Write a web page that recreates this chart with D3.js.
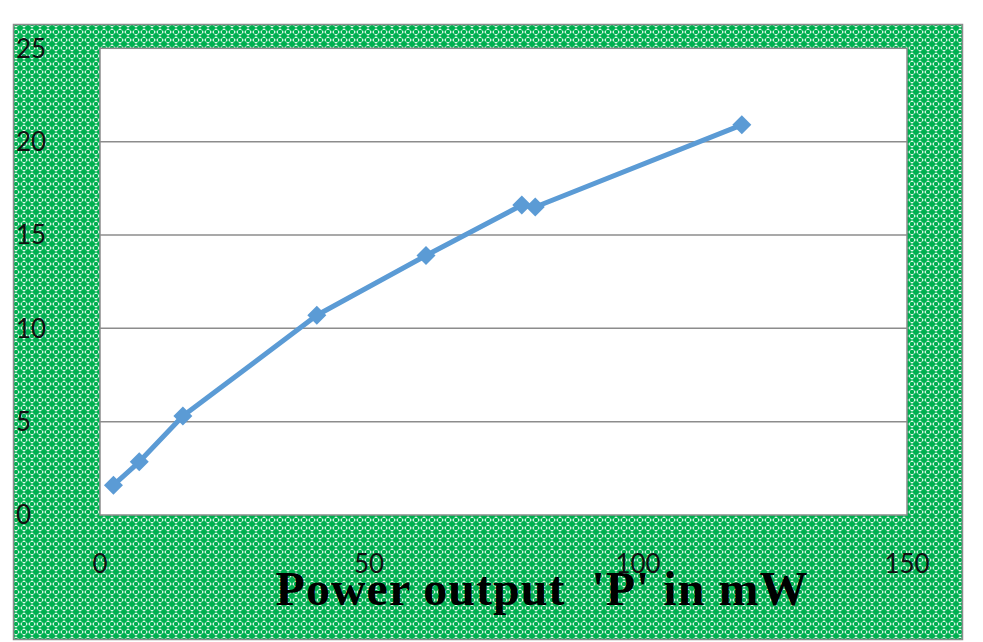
<!DOCTYPE html>
<html><head><meta charset="utf-8">
<script src="https://cdn.jsdelivr.net/npm/d3@7"></script>
<style>body{margin:0;background:#fff}svg{display:block}</style>
</head><body><svg id="c" width="983" height="642"></svg>
<script>
const powerOutput = [2.5, 7.3, 15.4, 40.3, 60.6, 78.4, 80.9, 119.3];
const seriesValues = [1.6, 2.85, 5.3, 10.7, 13.9, 16.6, 16.5, 20.9];
const xTicks = [0, 50, 100, 150];
const yTicks = [0, 5, 10, 15, 20, 25];
const xTitle = "Power output\u00a0\u00a0'P' in mW";

const svg = d3.select('#c');
const defs = svg.append('defs');
const pat = defs.append('pattern').attr('id','pt').attr('patternUnits','userSpaceOnUse')
  .attr('width',8).attr('height',8);
pat.append('rect').attr('width',8).attr('height',8).attr('fill','#ffffff');
pat.append('circle').attr('cx',4).attr('cy',4).attr('r',3).attr('fill','#00b050');
[[0,0],[8,0],[0,8],[8,8]].forEach(([x,y])=>pat.append('circle').attr('cx',x).attr('cy',y).attr('r',2.3).attr('fill','#00b050'));
pat.append('rect').attr('x',3.3).attr('y',0).attr('width',1.4).attr('height',8).attr('fill','#00b050');
pat.append('rect').attr('x',0).attr('y',3.3).attr('width',8).attr('height',1.4).attr('fill','#00b050');

svg.append('rect').attr('x',13.5).attr('y',24.5).attr('width',949).attr('height',615)
  .attr('fill','url(#pt)').attr('stroke','#8c8c8c').attr('stroke-width',1.5);

const x = d3.scaleLinear().domain([0,150]).range([100,907]);
const y = d3.scaleLinear().domain([0,25]).range([515,48.3]);

svg.append('rect').attr('x',x(0)).attr('y',y(25)).attr('width',x(150)-x(0)).attr('height',y(0)-y(25))
  .attr('fill','#fff').attr('stroke','#8c8c8c').attr('stroke-width',1.5);

svg.append('g').selectAll('line').data(yTicks.filter(d=>d>0&&d<25)).join('line')
  .attr('x1',x(0)).attr('x2',x(150)).attr('y1',d=>y(d)).attr('y2',d=>y(d))
  .attr('stroke','#8c8c8c').attr('stroke-width',1.5);

svg.append('g').selectAll('text').data(yTicks).join('text')
  .attr('x',16).attr('y',d=>y(d)).attr('dy','0.36em')
  .attr('font-family','Lato, "Open Sans", sans-serif').attr('font-size',26).attr('fill','#111')
  .text(d=>d);

svg.append('g').selectAll('text').data(xTicks).join('text')
  .attr('x',d=>x(d)).attr('y',573).attr('text-anchor','middle')
  .attr('font-family','Lato, "Open Sans", sans-serif').attr('font-size',26).attr('fill','#111')
  .text(d=>d);

svg.append('text').attr('x',542).attr('y',605).attr('text-anchor','middle')
  .attr('font-family','"Liberation Serif", "Times New Roman", serif').attr('font-weight','bold')
  .attr('font-size',48).attr('letter-spacing',1).attr('fill','#000').text(xTitle);

const pts = powerOutput.map((v,i)=>[v, seriesValues[i]]);
svg.append('path').datum(pts)
  .attr('d', d3.line().x(d=>x(d[0])).y(d=>y(d[1])))
  .attr('fill','none').attr('stroke','#5b9bd5').attr('stroke-width',5).attr('stroke-linejoin','round');

svg.append('g').selectAll('path').data(pts).join('path')
  .attr('d', d3.symbol().type(d3.symbolDiamond2 || d3.symbolDiamond).size(230))
  .attr('transform',d=>`translate(${x(d[0])},${y(d[1])})`)
  .attr('fill','#5b9bd5');
</script></body></html>
